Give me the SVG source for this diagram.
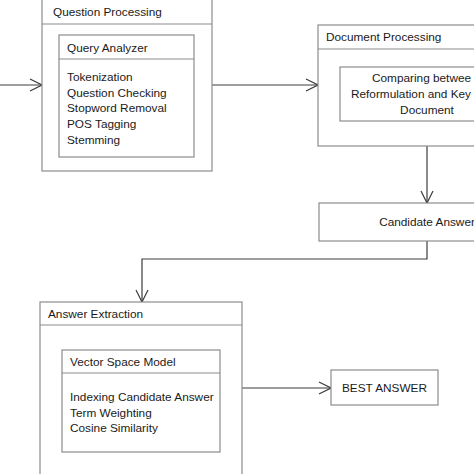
<svg xmlns="http://www.w3.org/2000/svg" width="474" height="474" viewBox="0 0 474 474">
<style>
.box{fill:#fff;stroke:#8c8c8c;stroke-width:1.2}
.div{stroke:#8c8c8c;stroke-width:1.2}
.t{font-family:"Liberation Sans",Arial,sans-serif;font-size:11.8px;fill:#1a1a1a}
.c{text-anchor:middle}
.con{fill:none;stroke:#3c3c3c;stroke-width:1.2}
</style>
<defs>
<marker id="arr" viewBox="-13 -7 14 14" markerWidth="14" markerHeight="14" refX="0" refY="0" orient="auto" markerUnits="userSpaceOnUse">
<path d="M-12,-6 L0,0 L-12,6" fill="none" stroke="#3c3c3c" stroke-width="1.2"/>
</marker>
</defs>
<rect width="474" height="474" fill="#fff"/>
<g id="connectors">
<path class="con" d="M0,85 H42" marker-end="url(#arr)"/>
<path class="con" d="M212,85 H318" marker-end="url(#arr)"/>
<path class="con" d="M427,146 V203" marker-end="url(#arr)"/>
<path class="con" d="M427,241 V259 H142 V302" marker-end="url(#arr)"/>
<path class="con" d="M242,388 H331" marker-end="url(#arr)"/>
</g>
<g id="question-processing">
<rect class="box" x="42" y="-10" width="170" height="181"/>
<line class="div" x1="42" y1="24" x2="212" y2="24"/>
<text class="t" x="53" y="16">Question Processing</text>
</g>
<g id="query-analyzer">
<rect class="box" x="59" y="35" width="135" height="122"/>
<line class="div" x1="59" y1="59" x2="194" y2="59"/>
<text class="t" x="67" y="52">Query Analyzer</text>
<text class="t" x="67" y="81">Tokenization</text>
<text class="t" x="67" y="97">Question Checking</text>
<text class="t" x="67" y="112">Stopword Removal</text>
<text class="t" x="67" y="128">POS Tagging</text>
<text class="t" x="67" y="144">Stemming</text>
</g>
<g id="document-processing">
<rect class="box" x="318" y="25" width="218" height="121"/>
<line class="div" x1="318" y1="49" x2="536" y2="49"/>
<text class="t" x="326" y="41">Document Processing</text>
</g>
<g id="comparing">
<rect class="box" x="340" y="67" width="174" height="54"/>
<text class="t" x="372" y="82">Comparing betwee</text>
<text class="t" x="351" y="98">Reformulation and Key</text>
<text class="t c" x="427" y="114">Document</text>
</g>
<g id="candidate-answer">
<rect class="box" x="319" y="203" width="217" height="38"/>
<text class="t c" x="427" y="226">Candidate Answer</text>
</g>
<g id="answer-extraction">
<rect class="box" x="40" y="302" width="202" height="180"/>
<line class="div" x1="40" y1="325" x2="242" y2="325"/>
<text class="t" x="48" y="318">Answer Extraction</text>
</g>
<g id="vector-space-model">
<rect class="box" x="62" y="350" width="158" height="102"/>
<line class="div" x1="62" y1="373" x2="220" y2="373"/>
<text class="t" x="70" y="366">Vector Space Model</text>
<text class="t" x="70" y="401">Indexing Candidate Answer</text>
<text class="t" x="70" y="417">Term Weighting</text>
<text class="t" x="70" y="432">Cosine Similarity</text>
</g>
<g id="best-answer">
<rect class="box" x="331" y="370" width="107" height="35"/>
<text class="t c" x="384.5" y="392">BEST ANSWER</text>
</g>
</svg>
